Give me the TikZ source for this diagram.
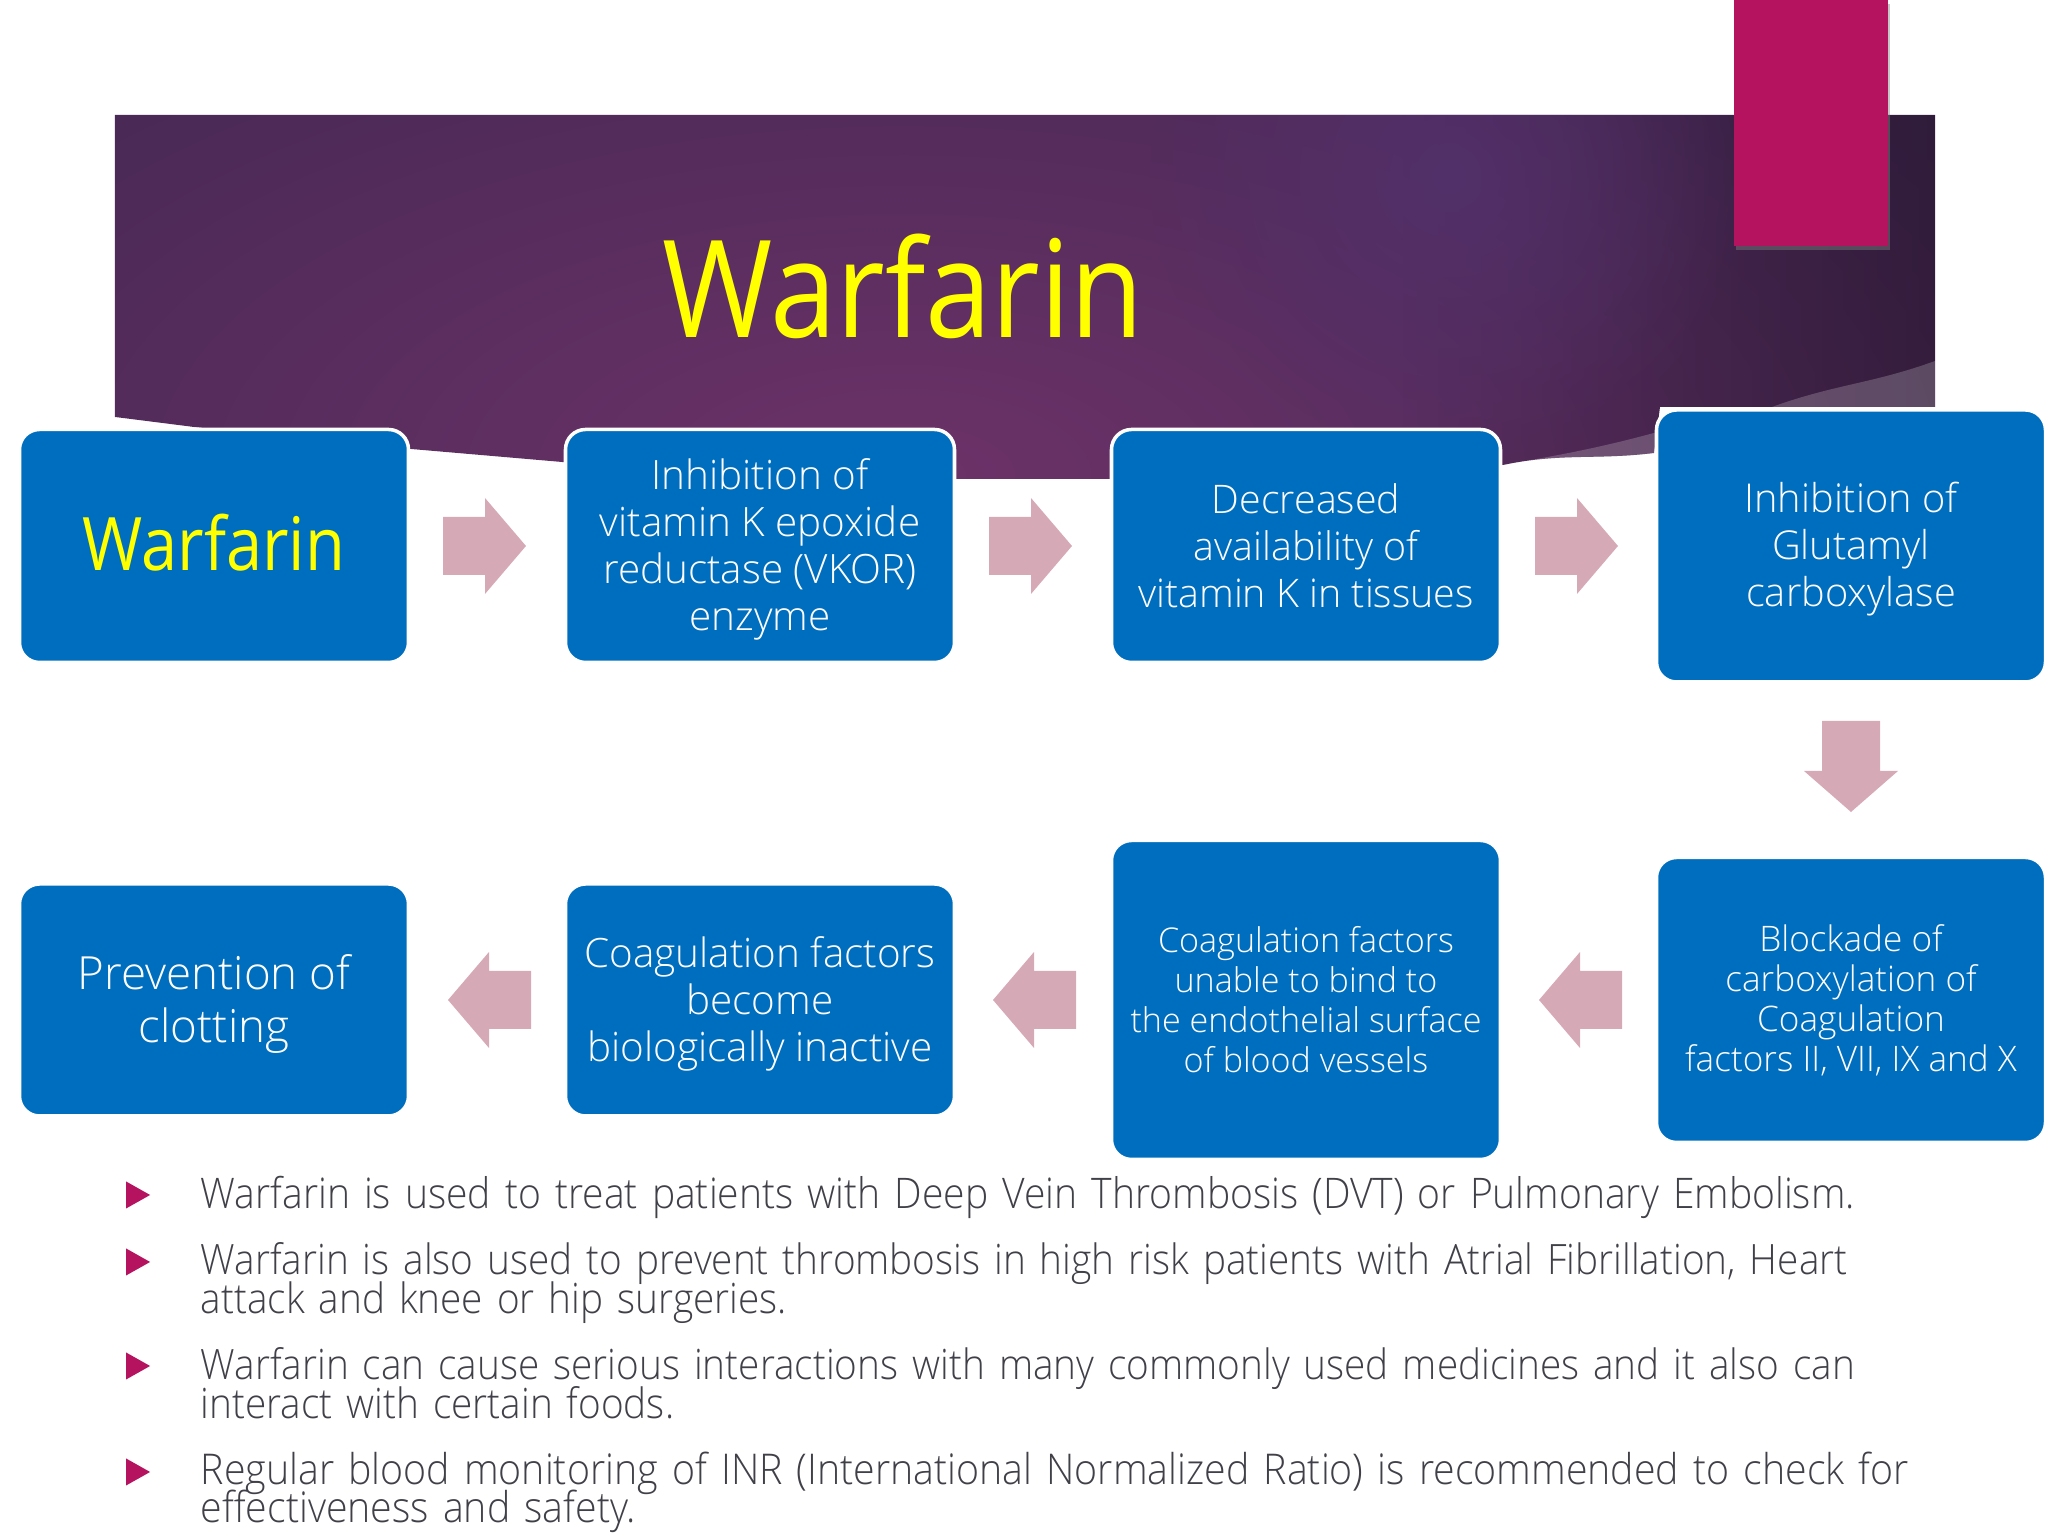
\documentclass[tikz,border=0pt]{standalone}
\usepackage{fontspec}
\setmainfont{Open Sans Light}
\newfontfamily\headfont[FakeStretch=0.88]{Open Sans}
\newfontfamily\pointfont[FakeStretch=0.926]{Open Sans Light}
\usetikzlibrary{positioning,shapes.geometric,calc,fadings,shadows}
\definecolor{boxblue}{HTML}{006EBE}
\definecolor{arrowpink}{HTML}{D6A9B6}
\definecolor{tabmagenta}{HTML}{B5135F}
\definecolor{titleyellow}{HTML}{FFFF00}
\definecolor{bandedge}{HTML}{3D2650}
\definecolor{bandmid}{HTML}{6C3268}
\definecolor{bandglow}{HTML}{523069}
\definecolor{bulletgrey}{HTML}{404048}
\tikzfading[name=softglow, inner color=transparent!0, outer color=transparent!100]
\tikzset{
	flowbox/.style={rectangle, rounded corners=0.2cm, fill=boxblue, draw=white, line width=1pt, text=white, align=center, minimum width=3.89cm, inner sep=0pt, font=\fontsize{11.5}{13.4}\selectfont},
	bullettext/.style={anchor=west, align=left, text=bulletgrey, inner sep=0pt, text width=17.6cm},
	bulletmark/.style={fill=tabmagenta, isosceles triangle, isosceles triangle stretches, minimum height=0.24cm, minimum width=0.27cm, inner sep=0pt},
	blockarrow/.style={fill=arrowpink},
}
\newcommand{\pointsize}[1]{\pointfont\fontsize{#1}{11}\selectfont\lineskiplimit=-6pt}
\newcommand{\rightblock}[2]{\fill[blockarrow] (#1,#2-0.29) -- (#1+0.42,#2-0.29) -- (#1+0.42,#2-0.48) -- (#1+0.83,#2) -- (#1+0.42,#2+0.48) -- (#1+0.42,#2+0.29) -- (#1,#2+0.29) -- cycle;}
\newcommand{\leftblock}[2]{\fill[blockarrow] (#1,#2-0.29) -- (#1-0.42,#2-0.29) -- (#1-0.42,#2-0.48) -- (#1-0.83,#2) -- (#1-0.42,#2+0.48) -- (#1-0.42,#2+0.29) -- (#1,#2+0.29) -- cycle;}
\begin{document}
\begin{tikzpicture}
	\useasboundingbox (0,0) rectangle (20.48,15.36);
	% banner
	\begin{scope}
		\clip (1.15,14.21) -- (19.35,14.21) -- (19.35,11.29) -- (16.60,11.29) -- (16.54,10.83) to [out=187,in=12] (15.03,10.71) to [out=175,in=0] (11.08,10.57) -- (9.57,10.57) to [out=180,in=-6] (5.62,10.74) -- (4.11,10.87) -- (1.94,11.09) -- (1.15,11.19) -- cycle;
		\shade [inner color=bandmid, outer color=bandedge] (-5.97,3.6) rectangle (24.03,17.6);
		\fill [black, opacity=0.3, path fading=west] (14,10) rectangle (19.35,14.21);
		\fill [bandglow, path fading=softglow] (14.5,13.6) circle (3);
		% lighter strip at the right
		\fill [white, opacity=0.2] (19.35,11.75) to [out=200,in=20] (17.72,11.29) -- (16.54,11.03) to [out=195,in=10] (15.03,10.71) -- (15.03,10) -- (19.35,10) -- cycle;
	\end{scope}
	\fill [tabmagenta, drop shadow={shadow xshift=0.02cm, shadow yshift=-0.04cm, opacity=0.45}] (17.34,15.36) rectangle (18.88,12.90);
	\node [text=titleyellow, font=\headfont\fontsize{38.5}{42}\selectfont] (title) at (9.03,12.50) {Warfarin};
	% top row
	\node [flowbox, minimum height=2.33cm] (warfarinbox) at (2.14,9.90) {};
	\node [text=titleyellow, font=\headfont\fontsize{21}{24}\selectfont] (warfarinlabel) at (2.14,9.93) {Warfarin};
	\node [flowbox, minimum height=2.33cm, text depth=1pt] (vkor) at (7.60,9.90) {Inhibition of\\vitamin K epoxide\\reductase (VKOR)\\enzyme};
	\node [flowbox, minimum height=2.33cm, font=\fontsize{11.2}{13.4}\selectfont] (availability) at (13.06,9.90) {Decreased\\availability of\\vitamin K in tissues};
	\node [flowbox, minimum height=2.72cm, text depth=1pt, font=\fontsize{11.3}{13.4}\selectfont] (glutamyl) at (18.51,9.90) {Inhibition of\\Glutamyl\\carboxylase};
	% bottom row
	\node [flowbox, minimum height=2.85cm, font=\fontsize{10}{11.4}\selectfont] (blockade) at (18.51,5.36) {Blockade of\\carboxylation of\\Coagulation\\factors II, VII, IX and X};
	\node [flowbox, minimum height=3.19cm, font=\fontsize{9.7}{11.4}\selectfont] (unable) at (13.06,5.36) {Coagulation factors\\unable to bind to\\the endothelial surface\\of blood vessels};
	\node [flowbox, minimum height=2.32cm, text depth=0.6pt] (inactive) at (7.60,5.36) {Coagulation factors\\become\\biologically inactive};
	\node [flowbox, minimum height=2.32cm, text depth=0.8pt, font=\fontsize{13}{15.2}\selectfont] (prevention) at (2.14,5.36) {Prevention of\\clotting};
	% arrows
	\rightblock{4.43}{9.90}
	\rightblock{9.89}{9.90}
	\rightblock{15.35}{9.90}
	\fill [blockarrow] (18.22,8.15) -- (18.22,7.65) -- (18.04,7.65) -- (18.51,7.24) -- (18.98,7.65) -- (18.80,7.65) -- (18.80,8.15) -- cycle;
	\leftblock{16.22}{5.36}
	\leftblock{10.76}{5.36}
	\leftblock{5.31}{5.36}
	% bullets
	\node [bulletmark] (mark1) at (1.34,3.41) {};
	\node [bulletmark] (mark2) at (1.34,2.74) {};
	\node [bulletmark] (mark3) at (1.34,1.70) {};
	\node [bulletmark] (mark4) at (1.34,0.64) {};
	\node [bullettext, font=\pointsize{12}] (point1) at (2.0,3.39) {Warfarin is used to treat patients with Deep Vein Thrombosis (DVT) or Pulmonary Embolism.};
	\node [bullettext, font=\pointsize{11.9}] (point2) at (2.0,2.53) {Warfarin is also used to prevent thrombosis in high risk patients with Atrial Fibrillation, Heart\\attack and knee or hip surgeries.};
	\node [bullettext, font=\pointsize{11.9}] (point3) at (2.0,1.53) {Warfarin can cause serious interactions with many commonly used medicines and it also can\\interact with certain foods.};
	\node [bullettext, font=\pointsize{12.07}] (point4) at (2.0,0.435) {Regular blood monitoring of INR (International Normalized Ratio) is recommended to check for\\effectiveness and safety.};
\end{tikzpicture}
\end{document}
